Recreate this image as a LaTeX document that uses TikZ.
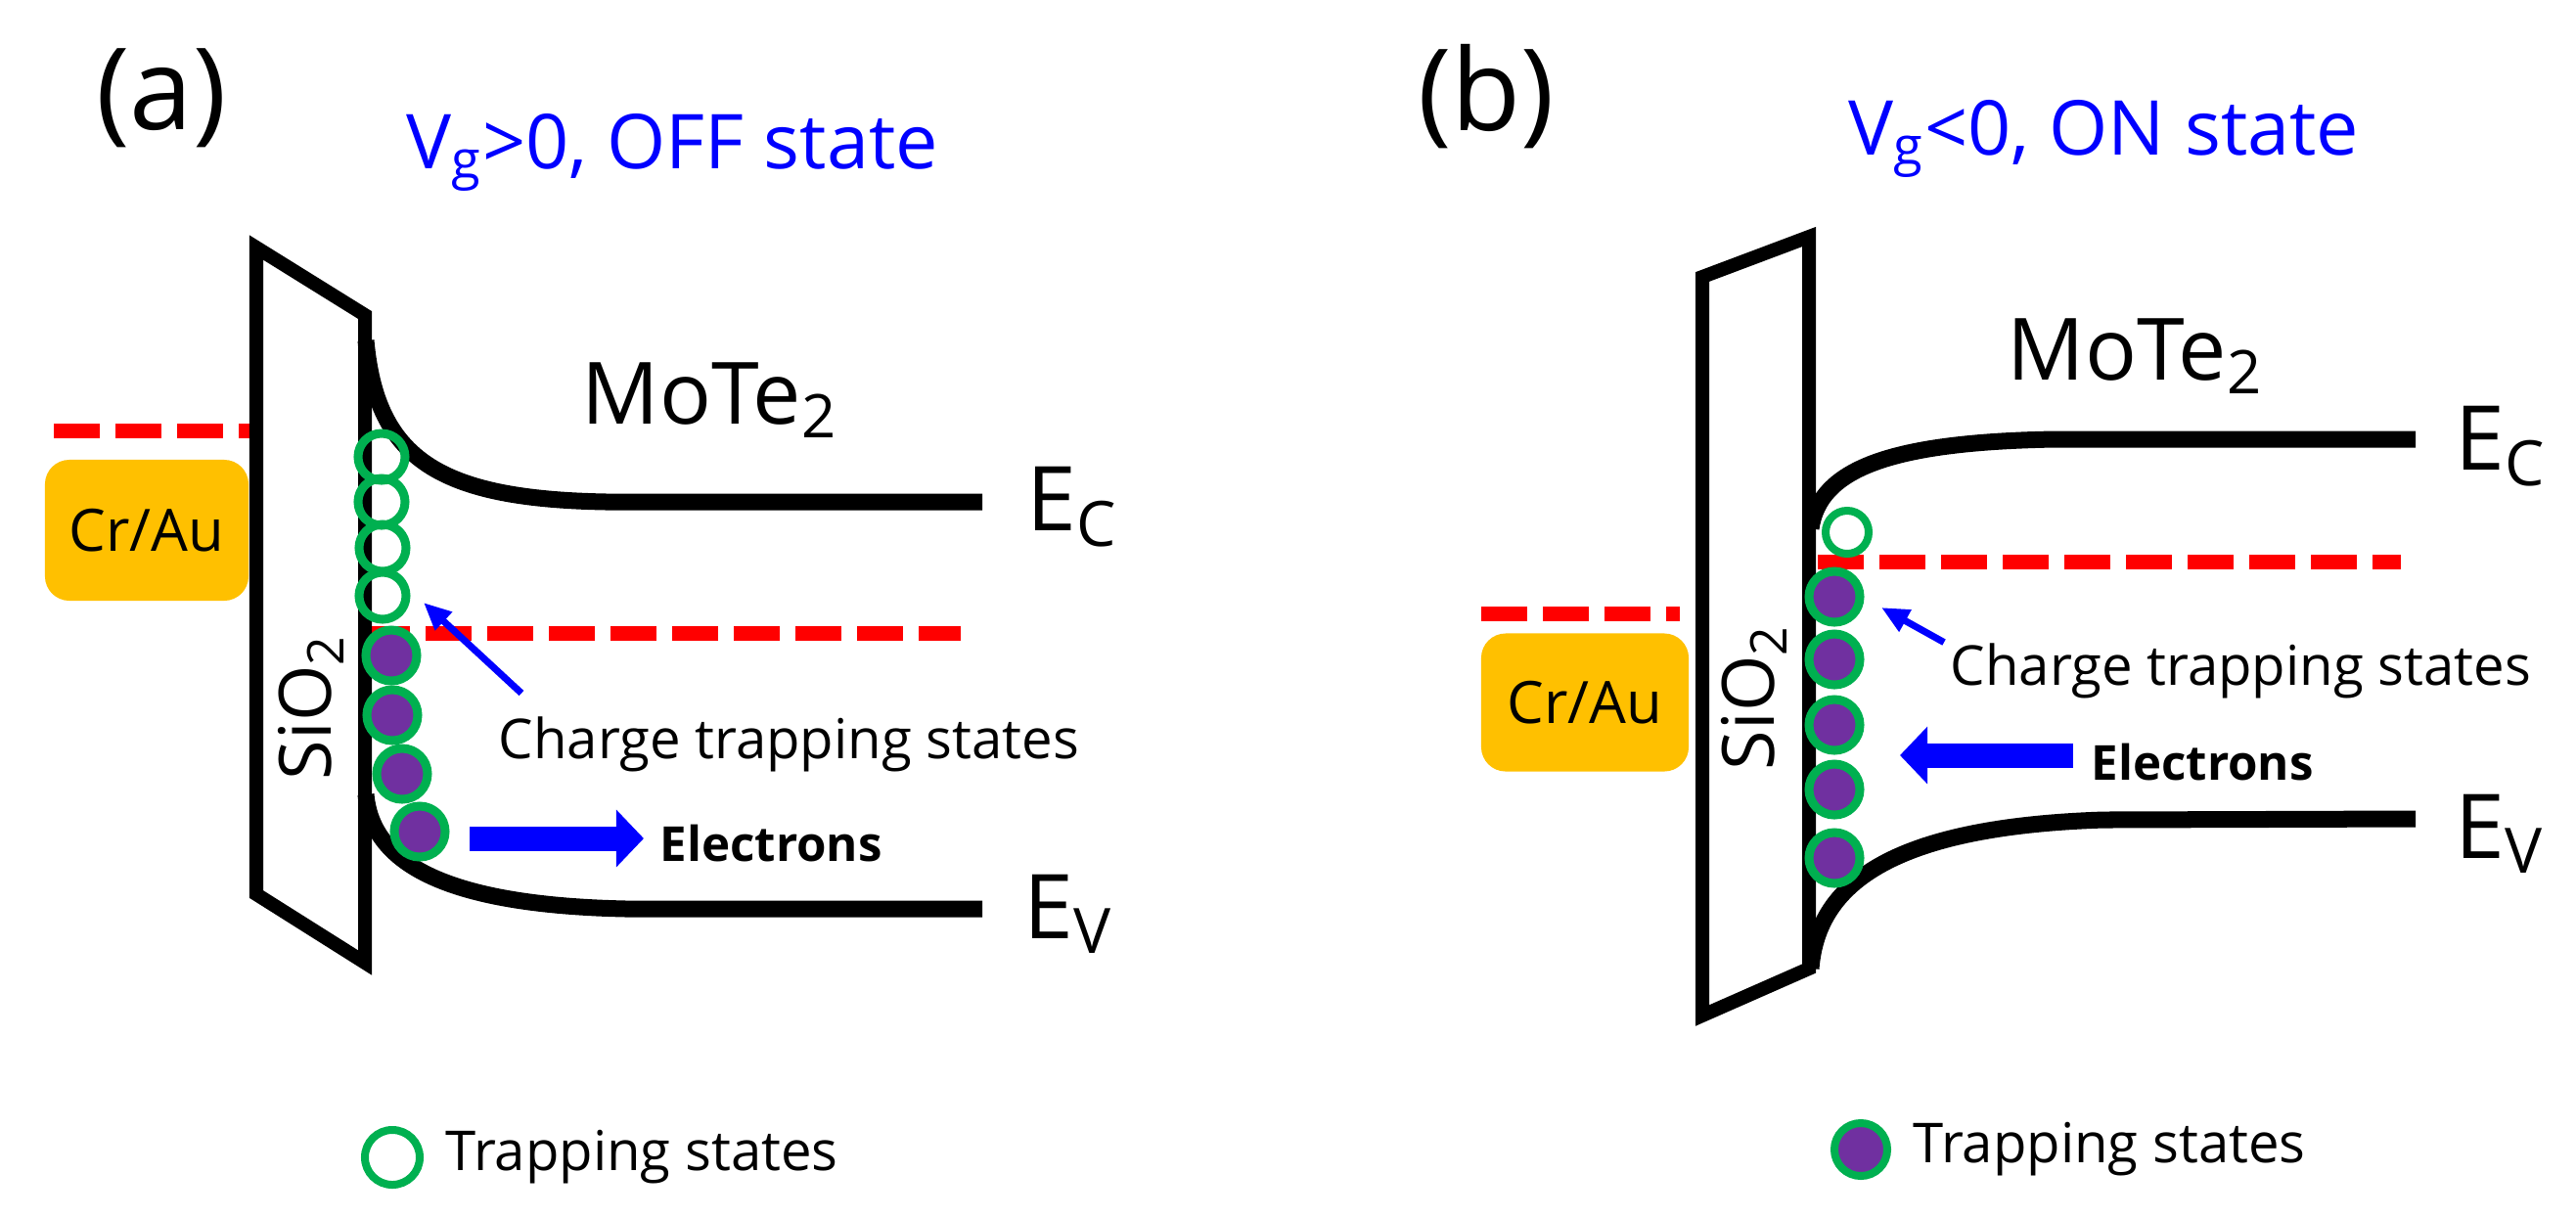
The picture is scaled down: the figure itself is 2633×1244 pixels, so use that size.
\documentclass[tikz,border=0pt]{standalone}
\usepackage{fontspec}
\setmainfont{Open Sans}
\usepackage{xcolor}
\usepackage{tikz}
\usetikzlibrary{arrows.meta, positioning}

\definecolor{trapgreen}{RGB}{0,176,80}
\definecolor{trappurple}{RGB}{112,48,160}
\definecolor{metalgold}{RGB}{255,192,0}

\begin{document}
\begin{tikzpicture}[x=0.01cm, y=-0.01cm,
        bandline/.style={line width=0.17cm},
        oxideline/.style={line width=0.14cm, line join=miter},
        fermiline/.style={red, line width=0.15cm, dash pattern=on 0.47cm off 0.16cm},
        metalbox/.style={fill=metalgold, rounded corners=0.25cm, inner sep=0, font=\fontsize{17}{20}\selectfont},
        emptytrap/.style={circle, draw=trapgreen, line width=0.09cm, minimum size=0.48cm, inner sep=0},
        filledtrap/.style={circle, draw=trapgreen, fill=trappurple, line width=0.09cm, minimum size=0.52cm, inner sep=0},
        thinarrow/.style={blue, line width=0.07cm, -{Triangle[length=0.28cm, width=0.24cm]}},
        bigarrow/.style={blue, line width=0.25cm, -{Triangle[length=0.28cm, width=0.57cm]}},
        lbl/.style={inner sep=0, anchor=base west}]
        \useasboundingbox (0,0) rectangle (2633,1244);

        % (a) Vg > 0
        \draw[fermiline] (55,440) -- (258,440);
        \draw[fermiline] (372,647) -- (982,647);
        \draw[bandline] (374,348) .. controls (385,470) and (450,510) .. (620,513) -- (1004,513);
        \draw[bandline] (374,812) .. controls (380,880) and (450,925) .. (640,929) -- (1004,929);
        \draw[oxideline] (262,253) -- (373,322) -- (373,984) -- (262,914) -- cycle;
        \node[metalbox, minimum width=2.08cm, minimum height=1.44cm] (metalA) at (150,542) {Cr/Au};
        \node[rotate=90, font=\fontsize{21}{24}\selectfont] (oxA) at (318,723) {SiO\textsubscript{2}};

        \node[emptytrap] (ea1) at (390,467) {};
        \node[emptytrap] (ea2) at (390,513) {};
        \node[emptytrap] (ea3) at (391,560) {};
        \node[emptytrap] (ea4) at (391,609) {};
        \node[filledtrap] (fa1) at (400,670) {};
        \node[filledtrap] (fa2) at (401,731) {};
        \node[filledtrap] (fa3) at (411,791) {};
        \node[filledtrap] (fa4) at (429,850) {};

        \node[lbl, anchor=center, font=\fontsize{33}{38}\selectfont] (tagA) at (165,100) {(a)};
        \node[lbl, text=blue, font=\fontsize{22}{26}\selectfont] (titleA) at (415,172) {V\textsubscript{g}>0, OFF state};
        \node[lbl, font=\fontsize{25}{30}\selectfont] (moteA) at (594,433) {MoTe\textsubscript{2}};
        \node[lbl, font=\fontsize{26}{30}\selectfont] (ecA) at (1049,542) {E\textsubscript{C}};
        \node[lbl, font=\fontsize{26}{30}\selectfont] (evA) at (1046,959) {E\textsubscript{V}};
        \node[lbl, font=\fontsize{16}{19}\selectfont] (ctsA) at (509,775) {Charge trapping states};
        \node[lbl, font=\fontsize{14}{17}\selectfont\bfseries] (elecA) at (674,880) {Electrons};

        \coordinate (tipA) at (433,616);
        \coordinate (flowA) at (480,857);
        \draw[thinarrow] ([shift={(24,-23)}]ctsA.north west) -- (tipA);
        \draw[bigarrow, shorten >=0.16cm] (flowA) -- (flowA -| elecA.west);

        \node[emptytrap, minimum size=0.56cm, line width=0.08cm] (legA) at (401,1183) {};
        \node[lbl, right=0.22cm of legA, font=\fontsize{16}{19}\selectfont] (legAtxt) {Trapping states};

        % (b) Vg < 0
        \draw[fermiline] (1514,627) -- (1717,627);
        \draw[fermiline] (1858,574) -- (2454,574);
        \draw[bandline] (1851,540) .. controls (1860,480) and (1930,452) .. (2100,449) -- (2469,449);
        \draw[bandline] (1851,990) .. controls (1858,900) and (1940,845) .. (2150,838) -- (2469,837);
        \draw[oxideline] (1740,283) -- (1849,242) -- (1849,990) -- (1740,1038) -- cycle;
        \node[metalbox, minimum width=2.12cm, minimum height=1.41cm] (metalB) at (1620,718) {Cr/Au};
        \node[rotate=90, font=\fontsize{21}{24}\selectfont] (oxB) at (1793,713) {SiO\textsubscript{2}};

        \node[emptytrap, minimum size=0.44cm, line width=0.08cm] (eb1) at (1888,544) {};
        \node[filledtrap] (fb1) at (1875,610) {};
        \node[filledtrap] (fb2) at (1875,674) {};
        \node[filledtrap] (fb3) at (1875,741) {};
        \node[filledtrap] (fb4) at (1875,807) {};
        \node[filledtrap] (fb5) at (1875,877) {};

        \node[lbl, anchor=center, font=\fontsize{33}{38}\selectfont] (tagB) at (1519,99) {(b)};
        \node[lbl, text=blue, font=\fontsize{22}{26}\selectfont] (titleB) at (1889,158) {V\textsubscript{g}<0, ON state};
        \node[lbl, font=\fontsize{25}{30}\selectfont] (moteB) at (2051,388) {MoTe\textsubscript{2}};
        \node[lbl, font=\fontsize{26}{30}\selectfont] (ecB) at (2509,480) {E\textsubscript{C}};
        \node[lbl, font=\fontsize{26}{30}\selectfont] (evB) at (2509,877) {E\textsubscript{V}};
        \node[lbl, font=\fontsize{16}{19}\selectfont] (ctsB) at (1993,700) {Charge trapping states};
        \node[lbl, font=\fontsize{14}{17}\selectfont\bfseries] (elecB) at (2137,797) {Electrons};

        \coordinate (tipB) at (1923,621);
        \coordinate (flowB) at (1942,772);
        \draw[thinarrow] ([xshift=-0.06cm]ctsB.north west) -- (tipB);
        \draw[bigarrow, shorten <=0.18cm] (flowB -| elecB.west) -- (flowB);

        \node[filledtrap, minimum size=0.54cm, line width=0.08cm] (legB) at (1902,1175) {};
        \node[lbl, right=0.22cm of legB, font=\fontsize{16}{19}\selectfont] (legBtxt) {Trapping states};
\end{tikzpicture}
\end{document}
